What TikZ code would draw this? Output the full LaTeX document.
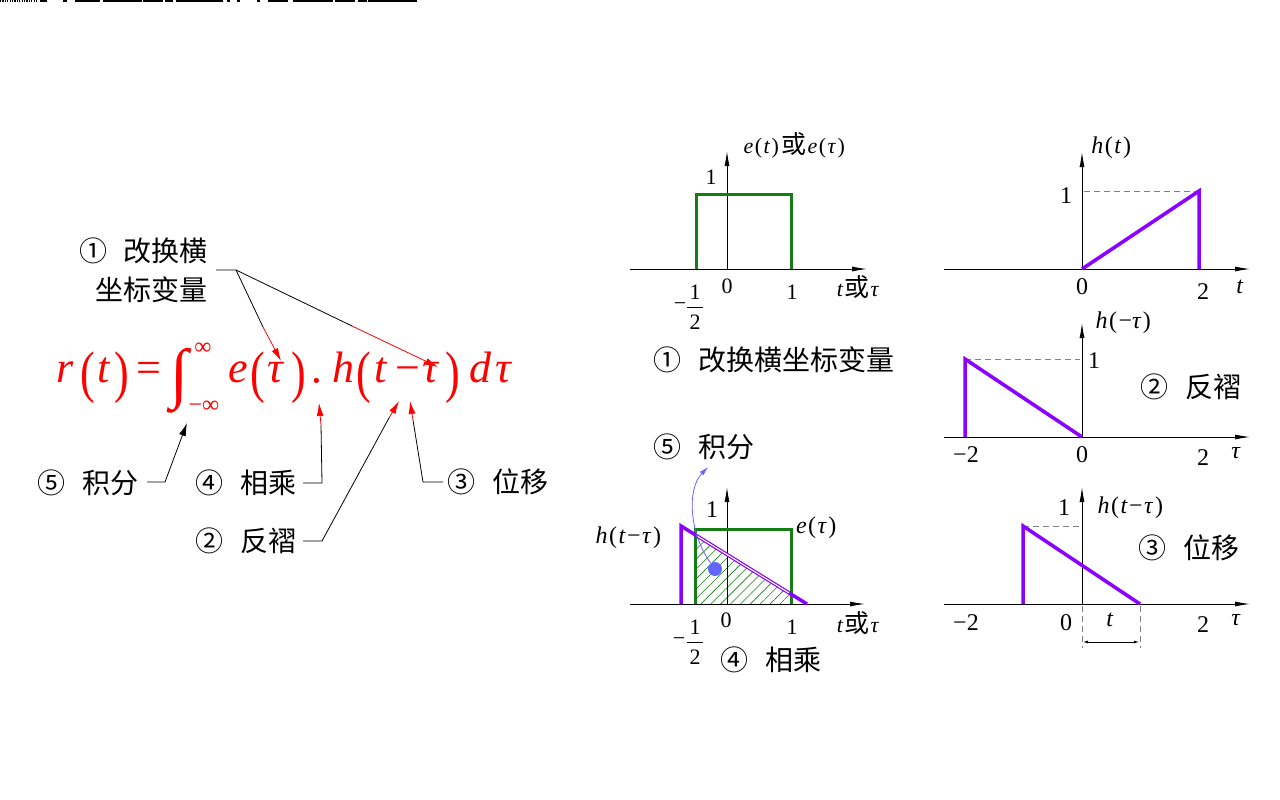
\documentclass[tikz,border=0pt]{standalone}
\usepackage{fontspec}
\setmainfont{Liberation Serif}
\newfontfamily\cjk{Noto Sans CJK SC}
\usetikzlibrary{arrows.meta,patterns.meta}
\definecolor{sgreen}{RGB}{20,125,20}
\definecolor{spurple}{RGB}{140,0,255}
\definecolor{sblue}{RGB}{100,100,255}
\newcommand\BigL{\raisebox{-0.22em}{\scalebox{1}[1.3]{(}}}
\newcommand\BigR{\raisebox{-0.22em}{\scalebox{1}[1.3]{)}}}
\newcommand\pl{\kern1.5pt(\kern1.5pt}
\newcommand\pr{\kern1.5pt)\kern1.5pt}
\newcommand\mn{\kern1.5pt−\kern1.5pt}
\newcommand\huo{{\cjk\fontsize{25}{26}\selectfont\kern1pt 或\kern1pt}}
\begin{document}
\begin{tikzpicture}[x=1pt,y=-1pt,
  cn/.style={font=\cjk\fontsize{28}{39}\selectfont, inner sep=0pt},
  lab/.style={font=\fontsize{22}{24}\selectfont, inner sep=0pt},
  labb/.style={font=\fontsize{24}{26}\selectfont, inner sep=0pt},
  fm/.style={red, inner sep=0pt, anchor=base, font=\fontsize{44}{48}\selectfont},
  fs/.style={red, inner sep=0pt, font=\fontsize{24}{26}\selectfont},
  axis/.style={line width=0.9pt,-{Latex[length=15pt,width=5pt]}},
  gsig/.style={sgreen,line width=3pt},
  psig/.style={spurple,line width=3.5pt},
  guide/.style={gray,line width=0.7pt,dash pattern=on 6pt off 4pt},
  conn/.style={line width=0.8pt},
  fbar/.style={line width=0.8pt},
  redtip/.style={red,line width=0.8pt,-{Latex[length=13pt,width=7pt]}},
  blacktip/.style={black,line width=0.8pt,-{Latex[length=13pt,width=7pt]}}]
\useasboundingbox (0,0) rectangle (1280,800);

% top dashed strip
\draw[line width=1.6pt,dash pattern=on 1.2pt off 1.2pt] (0,1) -- (37,1);
\draw[line width=1.6pt] (40,1)--(47,1) (63,1)--(67,1) (75,1)--(100,1) (103,1)--(142,1)
  (143,1)--(163,1) (165,1)--(173,1) (176,1)--(223,1) (227,1)--(230,1) (237,1)--(240,1)
  (257,1)--(260,1) (268,1)--(288,1) (293,1)--(333,1) (335,1)--(355,1) (358,1)--(367,1)
  (368,1)--(417,1);

% ---------------- left: formula ----------------
\node[fm] (Fr)  at (65,382) {\textit{r}};
\node[fm] (Fp1) at (88,382) {\BigL};
\node[fm] (Ft1) at (104,382) {\textit{t}};
\node[fm] (Fq1) at (122,382) {\BigR};
\node[fm] (Feq) at (148.5,382) {=};
\node[red, inner sep=0pt] (Fint) at (180,380.5) {\resizebox*{18pt}{65pt}{∫}};
\node[fs] (Fsup) at (203,349) {∞};
\node[fs] (Fsub) at (204,407) {−∞};
\node[fm] (Fe)  at (238,382) {\textit{e}};
\node[fm] (Fp2) at (258,382) {\BigL};
\node[fm] (Ftau1) at (276,382) {\textit{τ}};
\node[fm] (Fq2) at (299,382) {\BigR};
\node[fm] (Fdot) at (317,382) {\raisebox{-0.3em}{·}};
\node[fm] (Fh)  at (343,382) {\textit{h}};
\node[fm] (Fp3) at (364,382) {\BigL};
\node[fm] (Ft2) at (381,382) {\textit{t}};
\node[fm] (Fmin) at (407.5,382) {−};
\node[fm] (Ftau2) at (431,382) {\textit{τ}};
\node[fm] (Fq3) at (452.5,382) {\BigR};
\node[fm] (Fd)  at (481,382) {\textit{d}};
\node[fm] (Ftau3) at (504,382) {\textit{τ}};

\node[cn, align=right, anchor=east] (L1) at (208,270) {①\hspace{0.6em}改换横\\坐标变量};
\node[cn, anchor=west] (L5) at (37,483) {⑤\hspace{0.6em}积分};
\node[cn, anchor=west] (L4) at (195,483) {④\hspace{0.6em}相乘};
\node[cn, anchor=west] (L2) at (195,541) {②\hspace{0.6em}反褶};
\node[cn, anchor=west] (L3) at (447,482) {③\hspace{0.6em}位移};

\coordinate (a1) at (216,270); \coordinate (j1) at (236,270);
\coordinate (m1) at (263,327); \coordinate (t1) at (281,361);
\coordinate (m2) at (352,326); \coordinate (t2) at (438,367);
\draw[conn] (a1) -- (j1) -- (m1);
\draw[redtip] (m1) -- (t1);
\draw[conn] (j1) -- (m2);
\draw[redtip] (m2) -- (t2);

\coordinate (a5) at (147,482); \coordinate (j5) at (165,482); \coordinate (t5) at (187,423);
\draw[blacktip] (a5) -- (j5) -- (t5);

\coordinate (a4) at (303,483); \coordinate (j4) at (322,483); \coordinate (m4) at (321,425); \coordinate (t4) at (319,403);
\draw[conn] (a4) -- (j4) -- (m4);
\draw[redtip] (m4) -- (t4);

\coordinate (a2) at (303,541); \coordinate (j2) at (322,541); \coordinate (m2b) at (389,418); \coordinate (t2b) at (399,401);
\draw[conn] (a2) -- (j2) -- (m2b);
\draw[redtip] (m2b) -- (t2b);

\coordinate (a3) at (443,482); \coordinate (j3) at (423,482); \coordinate (m3) at (413,420); \coordinate (t3) at (410,401);
\draw[conn] (a3) -- (j3) -- (m3);
\draw[redtip] (m3) -- (t3);

% ---------------- graph 1: e(t) ----------------
\draw[axis] (630,269) -- (867,269);
\draw[axis] (727,269) -- (727,151);
\draw[gsig] (696,269) -- (696,194) -- (791,194) -- (791,269);
\node[lab] (g1y) at (795,145) {\textit{e}\pl\textit{t}\pr\huo\textit{e}\pl\textit{τ}\pr};
\node[lab] (g1one) at (711,177) {1};
\node[lab] (g1zero) at (727,286) {0};
\node[lab] (g1x1) at (792,292) {1};
\node[lab] (g1x) at (858,287) {\textit{t}\huo\textit{τ}};
\node[lab] (g1m) at (680,307) {−};
\node[lab] (g1n) at (695,292) {1};
\node[lab] (g1d) at (695,322) {2};
\draw[fbar] ([xshift=-2pt]g1n.west |- g1m) -- ([xshift=2pt]g1n.east |- g1m);
\node[cn, anchor=west] (g1c) at (653,360) {①\hspace{0.6em}改换横坐标变量};

% ---------------- graph 2: h(t) ----------------
\draw[axis] (944,269) -- (1250,269);
\draw[axis] (1082,269) -- (1082,152);
\draw[guide] (1084,191) -- (1199,191);
\draw[psig, line join=miter] (1082,269) -- (1199,191) -- (1199,269);
\node[labb] (g2y) at (1112,148) {\textit{h}\pl\textit{t}\pr};
\node[labb] (g2one) at (1066,196) {1};
\node[labb] (g2zero) at (1082,287) {0};
\node[labb] (g2two) at (1203,292) {2};
\node[labb] (g2x) at (1240,287) {\textit{t}};

% ---------------- graph 3: h(-tau) ----------------
\draw[axis] (944,437) -- (1250,437);
\draw[axis] (1082,437) -- (1082,323);
\draw[guide] (965,359) -- (1080,359);
\draw[psig, line join=miter] (965,437) -- (965,359) -- (1082,437);
\node[labb] (g3y) at (1124,323) {\textit{h}\pl−\textit{τ}\pr};
\node[labb] (g3one) at (1094,361) {1};
\node[cn, anchor=west] (g3c) at (1140,387) {②\hspace{0.6em}反褶};
\node[labb] (g3m2) at (966,455) {−2};
\node[labb] (g3zero) at (1082,455) {0};
\node[labb] (g3two) at (1203,458) {2};
\node[labb] (g3x) at (1236,453) {\textit{τ}};

% ---------------- graph 4: h(t-tau) ----------------
\draw[axis] (944,604) -- (1250,604);
\draw[axis] (1082,604) -- (1082,487);
\draw[guide] (1023,526) -- (1080,526);
\draw[guide] (1082,606) -- (1082,648);
\draw[guide] (1140,606) -- (1140,648);
\draw[psig, line join=miter] (1023,604) -- (1023,526) -- (1140,604);
\coordinate (d1) at (1083,642); \coordinate (d2) at (1139,642);
\draw[line width=0.8pt, {Latex[length=5pt,width=3pt]}-{Latex[length=5pt,width=3pt]}] (d1) -- (d2);
\node[labb] (g4y) at (1131,508) {\textit{h}\pl\textit{t}\mn\textit{τ}\pr};
\node[labb] (g4one) at (1064,508) {1};
\node[cn, anchor=west] (g4c) at (1138,548) {③\hspace{0.6em}位移};
\node[labb] (g4m2) at (966,623) {−2};
\node[labb] (g4zero) at (1066,623) {0};
\node[labb] (g4t) at (1110,620) {\textit{t}};
\node[labb] (g4two) at (1203,625) {2};
\node[labb] (g4x) at (1236,620) {\textit{τ}};

% ---------------- graph 5: product ----------------
\fill[pattern={Lines[angle=45,distance=7pt,line width=0.6pt]}, pattern color=sgreen]
  (695,604) -- (695,535) -- (791,594) -- (791,604) -- cycle;
\draw[axis] (630,604) -- (865,604);
\draw[axis] (727,604) -- (727,487);
\draw[gsig] (695,604) -- (695,529) -- (791,529) -- (791,604);
\draw[psig, line join=miter] (681,604) -- (681,526) -- (807,604);
\draw[white, line width=1.1pt] (697,535.9) -- (789,592.9);
\node[circle, fill=sblue, minimum size=14pt, inner sep=0pt] (dot) at (715,569) {};
\coordinate (t5b) at (708,467);
\draw[sblue, line width=0.8pt, -{Latex[length=9pt,width=5pt]}] (dot) .. controls (690,535) and (686,490) .. (t5b);
\node[cn, anchor=west] (g5c) at (653,447) {⑤\hspace{0.6em}积分};
\node[labb] (g5one) at (712,510) {1};
\node[labb] (g5h) at (629,538) {\textit{h}\pl\textit{t}\mn\textit{τ}\pr};
\node[labb] (g5e) at (817,528) {\textit{e}\pl\textit{τ}\pr};
\node[lab] (g5zero) at (726,620) {0};
\node[lab] (g5x1) at (792,627) {1};
\node[lab] (g5x) at (858,623) {\textit{t}\huo\textit{τ}};
\node[lab] (g5m) at (679,642) {−};
\node[lab] (g5n) at (695,627) {1};
\node[lab] (g5d) at (695,657) {2};
\draw[fbar] ([xshift=-2pt]g5n.west |- g5m) -- ([xshift=2pt]g5n.east |- g5m);
\node[cn, anchor=west] (g5dd) at (720,660) {④\hspace{0.6em}相乘};
\end{tikzpicture}
\end{document}
